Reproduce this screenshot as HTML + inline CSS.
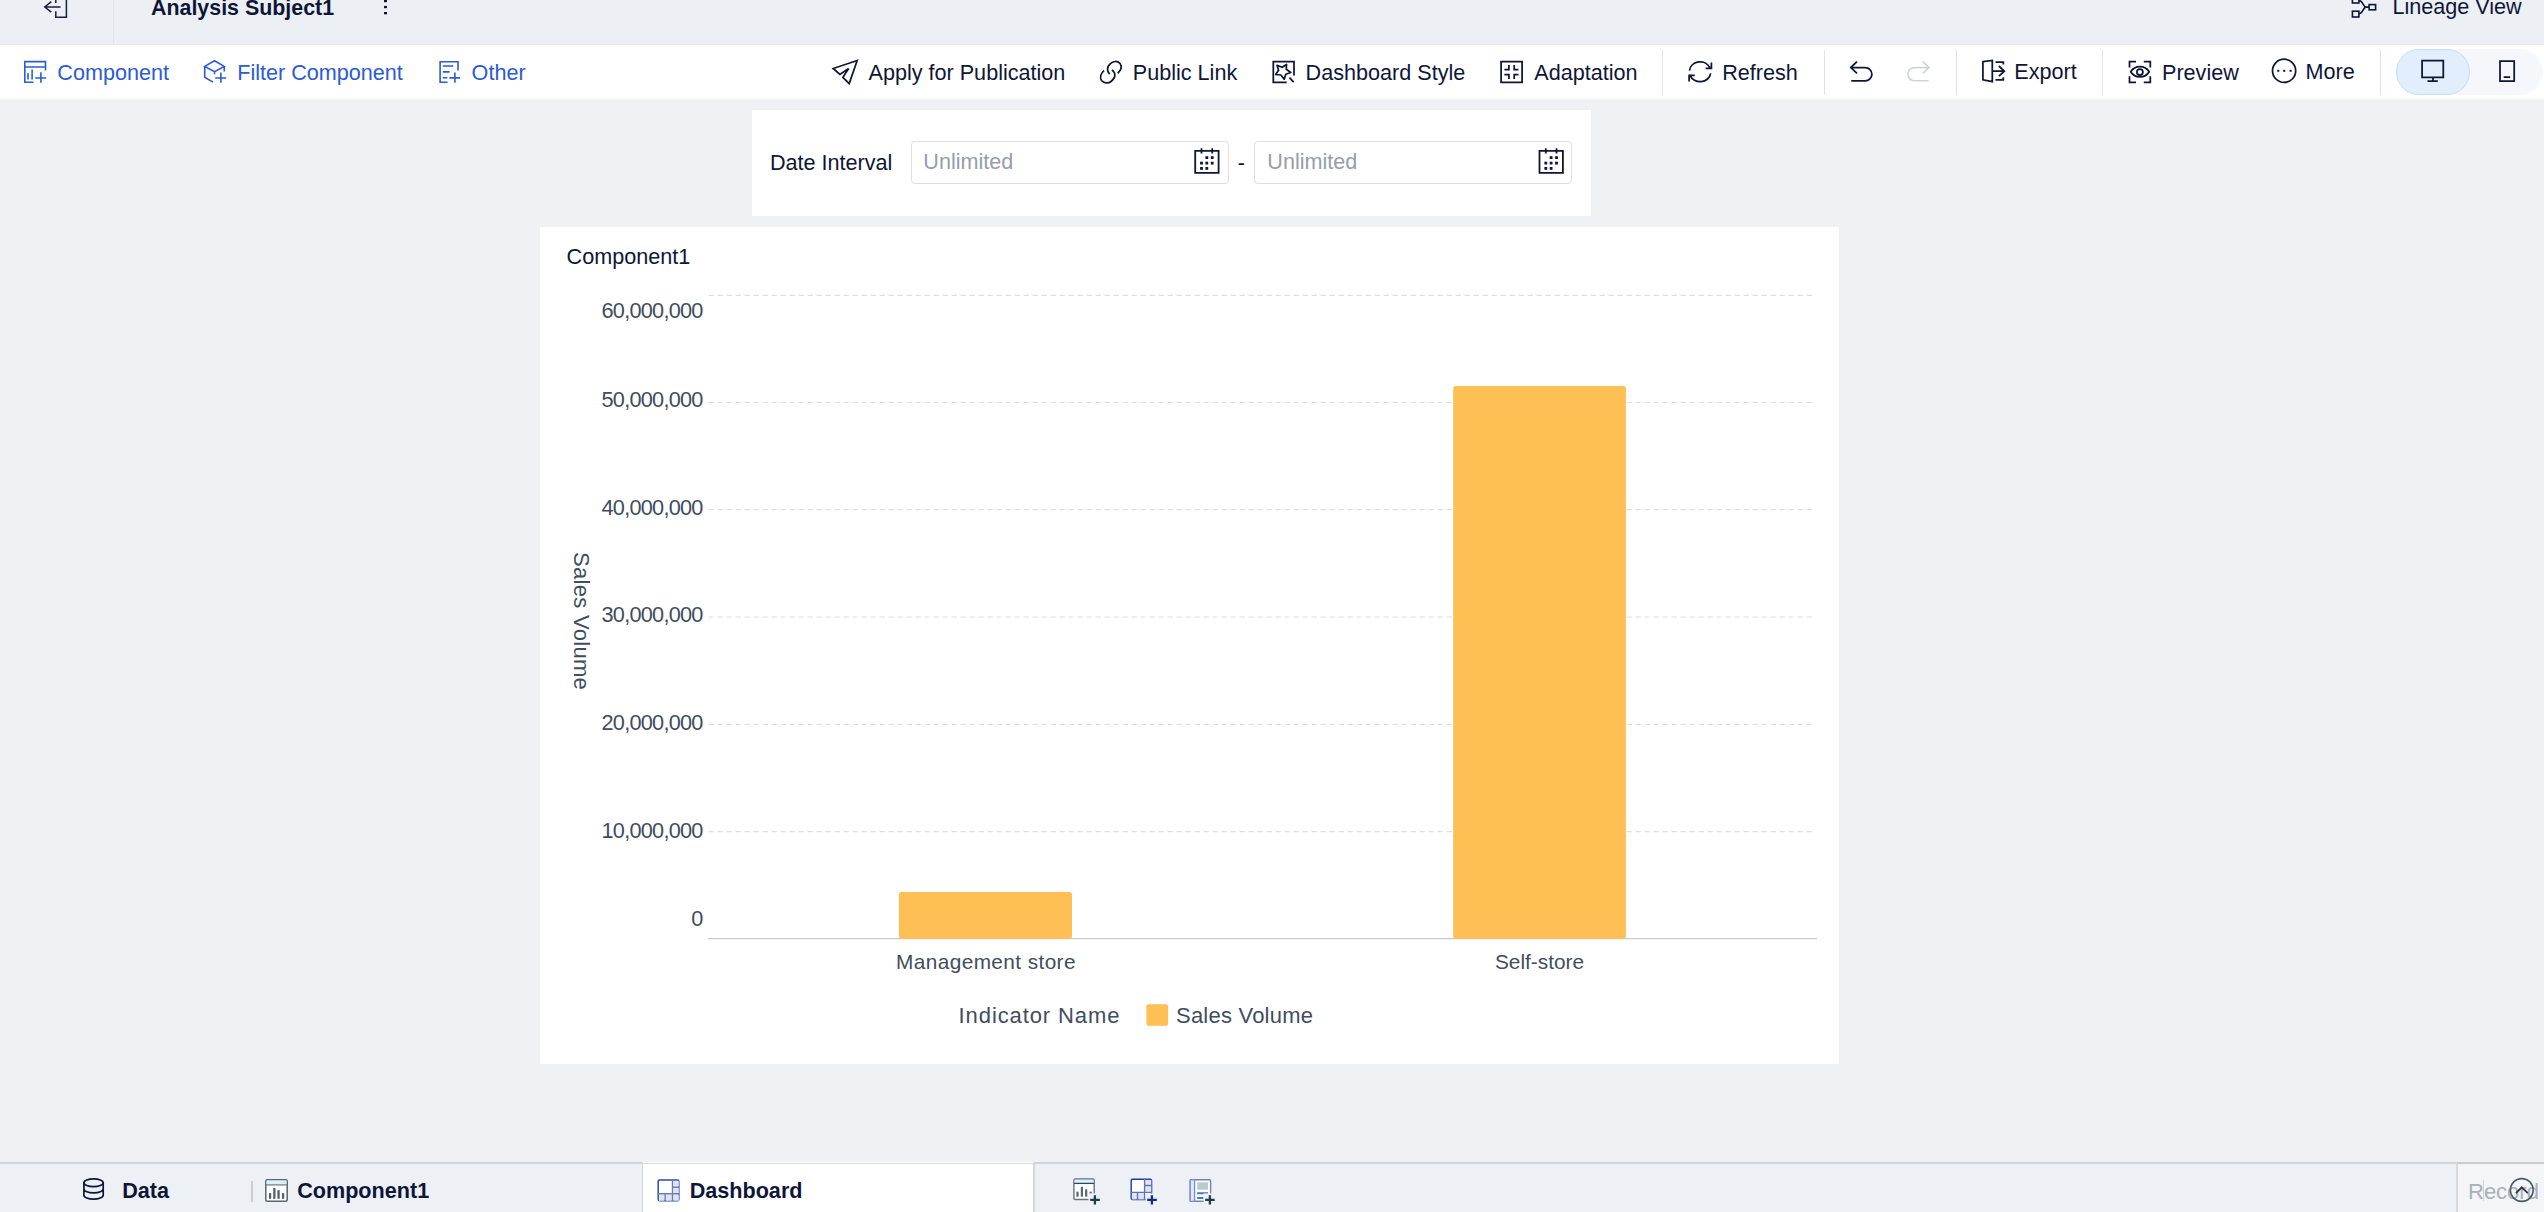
<!DOCTYPE html>
<html><head><meta charset="utf-8">
<style>
*{margin:0;padding:0;box-sizing:border-box}
html,body{width:2544px;height:1212px;overflow:hidden;background:#eff1f5;font-family:"Liberation Sans",sans-serif;color:#0e1637}
.a{position:absolute}
.t{position:absolute;white-space:nowrap;line-height:1;font-size:21.6px}
.b{font-weight:bold}
.blue{color:#2b5bd6}
svg{position:absolute;overflow:visible}
#top{left:0;top:0;width:2544px;height:45px;background:#eceff4;border-bottom:1px solid #e3e6ee}
#tb{left:0;top:45px;width:2544px;height:54px;background:#fff}
.div{position:absolute;top:50px;width:1px;height:45px;background:#dfe3ea}
#filter{left:752px;top:110px;width:839px;height:106px;background:#fff}
.inp{position:absolute;top:141px;height:43px;width:318px;border:1px solid #dcdee3;border-radius:4px;background:#fff}
#chart{left:540px;top:227px;width:1299px;height:837px;background:#fff}
.yl{position:absolute;right:1841.4px;font-size:21.7px;letter-spacing:-0.75px;line-height:1;color:#3f4d5d;white-space:nowrap;text-align:right}
.cl{color:#3f4d5d}
#bot{left:0;top:1162px;width:2544px;height:50px;background:#edf0f5;border-top:2px solid #cfd4dc}
</style></head>
<body>
<!-- top bar -->
<div id="top" class="a"></div>
<div class="a" style="left:113px;top:0;width:1px;height:45px;background:#e2e5eb"></div>
<svg style="left:0;top:0" width="80" height="30" viewBox="0 0 80 30"><g fill="none" stroke="#1a1f3a" stroke-width="1.5"><path d="M51.3 1.6L44.8 7L51.3 12.2M44.8 7H60.6"/><path d="M55.8 -2V3.1M55.8 11.2V17.3H66.4V-2"/></g></svg>
<div class="t b" style="left:151px;top:-2.2px;font-size:21.4px">Analysis Subject1</div>
<svg style="left:380px;top:0" width="10" height="20"><g fill="#0e1637"><rect x="4" y="0" width="3" height="2.2"/><rect x="4" y="5.9" width="3" height="2.3"/><rect x="4" y="12" width="3" height="2.3"/></g></svg>
<svg style="left:2345px;top:0" width="40" height="24" viewBox="2345 0 40 24"><g fill="none" stroke="#0e1637" stroke-width="1.6"><rect x="2352.4" y="-4" width="6.5" height="7"/><rect x="2352.4" y="11.2" width="6.5" height="5.8"/><rect x="2369.1" y="4.6" width="6.5" height="5.2"/><path d="M2359 0.5C2363 0.5 2363 7.1 2366 7.1H2369M2359 13.7C2363 13.7 2363 7.1 2366 7.1"/></g></svg>
<div class="t" style="left:2392.4px;top:-3.7px">Lineage View</div>

<!-- toolbar -->
<div id="tb" class="a"></div>
<div class="t blue" style="left:57.3px;top:61.5px">Component</div>
<div class="t blue" style="left:237.2px;top:61.5px">Filter Component</div>
<div class="t blue" style="left:471.6px;top:61.5px">Other</div>
<div class="t" style="left:868.5px;top:61.5px">Apply for Publication</div>
<div class="t" style="left:1132.8px;top:61.5px">Public Link</div>
<div class="t" style="left:1305.6px;top:61.5px">Dashboard Style</div>
<div class="t" style="left:1534.3px;top:61.5px">Adaptation</div>
<div class="t" style="left:1722.2px;top:61.5px">Refresh</div>
<div class="t" style="left:2014.3px;top:60.6px">Export</div>
<div class="t" style="left:2162px;top:61.5px">Preview</div>
<div class="t" style="left:2305.6px;top:60.6px">More</div>
<div class="div" style="left:1662px"></div>
<div class="div" style="left:1824px"></div>
<div class="div" style="left:1956px"></div>
<div class="div" style="left:2102px"></div>
<div class="div" style="left:2380px"></div>
<div class="a" style="left:2420px;top:49.3px;width:123px;height:45.5px;background:#f6f7fa;border-radius:22.7px"></div>
<div class="a" style="left:2396px;top:49px;width:74px;height:45.6px;background:#e3eefc;border:1px solid #c2def7;border-radius:23px"></div>
<svg style="left:0;top:0" width="2544" height="110" viewBox="0 0 2544 110">
<g fill="none" stroke="#2b5bd6" stroke-width="1.6">
<path d="M45.5 70.4V61.6H24.8V82.2H33.5M24.8 67H45.5M28 73.3V79.5M32.1 69.6V79.5M40.9 72.3V82.7M35.2 78H46.2"/>
<path d="M214.5 60.7L204.7 66.4L214.5 71.6L224.3 66.4ZM214.5 71.6V74.3M224.3 66.4V71.5M204.7 66.4V77.3L213 82.1M220.9 72.5V82.7M215.2 78H226.2"/>
<path d="M458 70.5V61.7H440.1V82.2H447.5M442.8 66H453.3M442.8 71.9H449.6M442.8 77.8H447.4M454.9 72.5V82.7M449.4 77.9H460.2"/>
</g>
<g fill="none" stroke="#0e1637" stroke-width="1.75">
<path d="M857.2 60.5L833.2 68.5L839.9 74.5L848.6 68.5L842.9 77.3L849.2 83.6Z" stroke-linejoin="miter"/>
<path d="M1109.6 74.1C1106.6 71.5 1107 66.5 1110 64C1113 61 1117.5 60.5 1120 63.5C1122.5 66.5 1121 70.5 1117.7 73.2"/>
<path d="M1104.1 70.6C1101 73 1099.5 77 1101.5 80.5C1103.5 83 1108 84 1111 81.5C1114 79 1115.5 75.5 1114.5 73C1113.8 71.5 1112.5 70.3 1111.9 69.9"/>
<path d="M1294 75.5V61.5H1273.3V82.3H1286.7M1289.4 77.6L1293.7 82.1"/>
<path d="M1277.1 65.4L1282.2 67.3L1286.5 64.4L1286.3 69.3L1290.8 72.5L1285.8 74.3L1284.2 79.2L1280.9 75L1275.7 74.5L1278.6 70.2Z" stroke-linejoin="round"/>
<path d="M1501.1 61.5H1522.1V82.4H1501.1ZM1508.9 65.1V69.6H1504.4M1514.2 65.1V69.6H1518.4M1504.4 74.6H1508.9V79M1518.4 74.6H1514.2V79"/>
<path d="M1689.5 70.6A10.7 9.9 0 0 1 1709.8 67.5M1711.4 62.5V68.4H1705.6M1710.7 73.3A10.7 9.9 0 0 1 1690.1 75.3M1689.1 81.5V75.4H1694.8"/>
<path d="M1857 61.7L1850.8 67.6L1857 73.3M1850.8 67.6H1865.3A6.6 6.6 0 0 1 1865.3 80.8H1851.3"/>
<path d="M1982.9 61.7L1992.3 60.5V81.7L1982.9 79.9ZM1992.3 71.2H2004.3M1998.9 66L2004.3 71.2L1998.9 76.1M1995.5 62H2003.3V64.5M1995.5 79.9H2003.3V77.3"/>
<path d="M2129.5 67.5V61.5H2136M2143.8 61.5H2150.3V67.5M2129.5 76.3V82.3H2136M2143.8 82.3H2150.3V76.3"/>
<path d="M2130.7 71.8C2135 65 2145 65 2149.2 71.8C2145 78.6 2135 78.6 2130.7 71.8Z"/>
<circle cx="2139.9" cy="72" r="3"/>
<circle cx="2284.1" cy="70.8" r="11.6"/>
<path d="M2422.1 60.6H2443.3V77.3H2422.1ZM2433 77.3V81.2M2427.5 81.2H2437.8"/>
<path d="M2500 61H2514.2V81.2H2500ZM2503.7 77.2H2510.2"/>
</g>
<g fill="#0e1637"><rect x="2277.3" y="69.8" width="2" height="2"/><rect x="2283.2" y="69.8" width="2" height="2"/><rect x="2289.6" y="69.8" width="2" height="2"/></g>
<path d="M1922.8 61.7L1929 67.6L1922.8 73.3M1929 67.6H1914.5A6.6 6.6 0 0 0 1914.5 80.8H1928.5" fill="none" stroke="#cfd3da" stroke-width="1.6"/>
</svg>


<!-- filter -->
<div id="filter" class="a"></div>
<div class="t" style="left:769.9px;top:151.8px">Date Interval</div>
<div class="inp" style="left:911px"></div>
<div class="inp" style="left:1254px"></div>
<div class="t" style="left:923.3px;top:151px;color:#969dab">Unlimited</div>
<div class="t" style="left:1267.3px;top:151px;color:#969dab">Unlimited</div>
<div class="t" style="left:1237.8px;top:151.8px">-</div>
<svg style="left:0;top:0" width="1600" height="200" viewBox="0 0 1600 200">
<g id="cal" fill="none" stroke="#0e1637" stroke-width="1.8"><path d="M1195.2 150.9H1218.6V172.8H1195.2ZM1201.5 148.3V153.5M1212.2 148.3V153.5"/>
<g fill="#0e1637" stroke="none"><rect x="1205.4" y="156.2" width="2.8" height="2.8"/><rect x="1210.8" y="156.2" width="2.8" height="2.8"/><rect x="1200.1" y="161.7" width="2.8" height="2.8"/><rect x="1205.4" y="161.7" width="2.8" height="2.8"/><rect x="1210.8" y="161.7" width="2.8" height="2.8"/><rect x="1200.1" y="167" width="2.8" height="2.8"/><rect x="1205.4" y="167" width="2.8" height="2.8"/></g></g>
<use href="#cal" transform="translate(344.3 0)"/>
</svg>

<!-- chart -->
<div id="chart" class="a"></div>
<div class="t" style="left:566.6px;top:245.7px">Component1</div>
<svg style="left:0;top:0" width="2544" height="1100" viewBox="0 0 2544 1100">
<g stroke="#dedede" stroke-width="1.2" stroke-dasharray="5.2 3.8"><path d="M708.6 295.4H1813M708.6 402.5H1813M708.6 509.7H1813M708.6 617H1813M708.6 724.5H1813M708.6 831.6H1813"/></g>
<path d="M707.7 938.7H1817" stroke="#cacaca" stroke-width="1.3"/>
<rect x="899" y="892" width="173" height="46.7" rx="2.5" fill="#febf55"/>
<rect x="1453.2" y="386" width="172.7" height="552.7" rx="2.5" fill="#febf55"/>
<rect x="1146.4" y="1004.2" width="21.7" height="21.6" rx="2" fill="#febf55"/>
</svg>
<div class="yl" style="top:300.3px">60,000,000</div>
<div class="yl" style="top:389.3px">50,000,000</div>
<div class="yl" style="top:496.8px">40,000,000</div>
<div class="yl" style="top:604.1px">30,000,000</div>
<div class="yl" style="top:712.1px">20,000,000</div>
<div class="yl" style="top:819.7px">10,000,000</div>
<div class="yl" style="top:907.8px">0</div>
<div class="t cl" style="left:986px;top:952.4px;font-size:20.8px;letter-spacing:0.4px;transform:translateX(-50%)">Management store</div>
<div class="t cl" style="left:1539.5px;top:952.4px;font-size:20.8px;transform:translateX(-50%)">Self-store</div>
<div class="t cl" style="left:958.6px;top:1005.1px;font-size:22px;letter-spacing:0.9px">Indicator Name</div>
<div class="t cl" style="left:1176px;top:1005.1px;font-size:22px;letter-spacing:0.22px">Sales Volume</div>
<div class="t cl" style="left:591.8px;top:552.1px;font-size:22px;letter-spacing:0.3px;transform-origin:0 0;transform:rotate(90deg)">Sales Volume</div>

<!-- bottom -->
<div id="bot" class="a"></div>
<div class="a" style="left:642px;top:1162px;width:393px;height:50px;background:#fff;border-left:1px solid #d0d5de;border-right:2px solid #d3d7de"></div>
<div class="a" style="left:643px;top:1163px;width:390px;height:1px;background:#d6dae1"></div>
<div class="a" style="left:251px;top:1181px;width:1.5px;height:21px;background:#c9cdd5"></div>
<div class="a" style="left:2456px;top:1162px;width:88px;height:50px;background:#f3f5f9;border-left:2px solid #d8dade;border-top:2px solid #c9cbcf"></div>
<div class="t b" style="left:122.2px;top:1179.6px">Data</div>
<div class="t b" style="left:297.2px;top:1179.6px">Component1</div>
<div class="t b" style="left:689.7px;top:1179.6px">Dashboard</div>
<div class="t" style="left:2468px;top:1181.4px;font-size:22px;color:#a9b1b9">Record</div>
<div class="a" style="left:2482.5px;top:1180px;width:1px;height:21px;background:#cfd3d8"></div>
<svg style="left:0;top:1150px" width="2544" height="62" viewBox="0 1150 2544 62">
<g fill="none" stroke="#0e1637" stroke-width="1.7">
<ellipse cx="93.55" cy="1182.7" rx="9.65" ry="3.9"/>
<path d="M83.9 1182.7V1195.2A9.65 3.9 0 0 0 103.2 1195.2V1182.7M83.9 1189A9.65 3.9 0 0 0 103.2 1189"/>
</g>
<rect x="265.8" y="1179.7" width="21.4" height="21.5" rx="1.5" fill="#fff" stroke="#56666f" stroke-width="1.5"/>
<rect x="266.6" y="1180.5" width="19.8" height="3.8" fill="#dcf0fc"/>
<path d="M266 1184.9H287" stroke="#7a8592" stroke-width="1.4"/>
<g fill="#4f5f70"><rect x="269" y="1193.1" width="2.2" height="5.7"/><rect x="273.2" y="1188.1" width="2.3" height="10.7"/><rect x="277.4" y="1190.2" width="2.3" height="8.6"/><rect x="282" y="1193.1" width="2.2" height="5.7"/></g>
<rect x="658.2" y="1180.1" width="20.6" height="20.7" rx="1.2" fill="#fff" stroke="#2b4aa6" stroke-width="1.5"/>
<g fill="#e1e3f5"><rect x="673.3" y="1180.9" width="5.5" height="5.7"/><rect x="673.3" y="1188.1" width="5.5" height="5"/><rect x="673.3" y="1194.6" width="5.5" height="6.2"/><rect x="666" y="1194.6" width="5.8" height="6.2"/><rect x="658.9" y="1194.6" width="5.4" height="6.2"/></g>
<path d="M672.5 1180V1201M658 1193.8H679M672.5 1187.3H679M665.1 1193.8V1201" stroke="#6a7fb0" stroke-width="1.4" fill="none"/>
<!-- add icons -->
<rect x="1073.9" y="1179" width="20.3" height="20.5" rx="1.3" fill="#fff" stroke="#66737f" stroke-width="1.4"/>
<rect x="1074.6" y="1179.7" width="18.9" height="3.3" fill="#dcf0fc"/>
<path d="M1074 1183.4H1094" stroke="#2f4a55" stroke-width="1.3"/>
<g fill="#556677"><rect x="1076.4" y="1191.7" width="2.2" height="5"/><rect x="1080.8" y="1186.8" width="2.2" height="9.9"/><rect x="1085.1" y="1189.4" width="2.2" height="7.3"/><rect x="1089.6" y="1191.7" width="2.2" height="2.5"/></g>
<rect x="1131.2" y="1179.2" width="20.4" height="20.3" rx="1.2" fill="#fff" stroke="#1f3d9c" stroke-width="1.4"/>
<g fill="#e0e2f5"><rect x="1145.4" y="1179.9" width="6" height="4.9"/><rect x="1145.4" y="1186.2" width="6" height="5.5"/><rect x="1131.9" y="1193.1" width="4.9" height="6.4"/><rect x="1138.2" y="1193.1" width="5.7" height="6.4"/></g>
<path d="M1144.6 1179V1200M1131 1192.4H1152M1144.6 1185.5H1152M1137.5 1192.4V1200" stroke="#5f74ad" stroke-width="1.4" fill="none"/>
<rect x="1190.2" y="1179.7" width="20.4" height="21.6" rx="1.5" fill="#fff" stroke="#7585a8" stroke-width="1.4"/>
<rect x="1190.2" y="1179.7" width="4.4" height="21.6" fill="#dfe7fa" stroke="#7b8bd9" stroke-width="1.3"/>
<rect x="1197.2" y="1182.3" width="10.8" height="7.4" fill="#bcc8d0"/>
<path d="M1197.2 1193.2H1208M1197.2 1198H1203.6" stroke="#3a78c8" stroke-width="1.9"/>
<!-- plus knockouts -->
<g fill="#edf0f5"><rect x="1088.5" y="1193.4" width="13" height="13"/><rect x="1145.5" y="1193.4" width="13" height="13"/><rect x="1203.5" y="1193.4" width="13" height="13"/></g>
<path d="M1094.9 1195.3V1204.6M1090.2 1199.8H1099.8M1209.9 1195.3V1204.6M1205.2 1199.9H1214.7" stroke="#1d3d47" stroke-width="2.3"/>
<path d="M1151.9 1195.3V1204.6M1147.2 1199.9H1156.8" stroke="#0e2a8e" stroke-width="2.3"/>
<circle cx="2521.8" cy="1190" r="11.4" fill="none" stroke="#4a5a68" stroke-width="1.6"/>
<path d="M2515.9 1193.1L2521.8 1187.3L2527.8 1193.1" fill="none" stroke="#2a3440" stroke-width="1.7"/>
</svg>
</body></html>
